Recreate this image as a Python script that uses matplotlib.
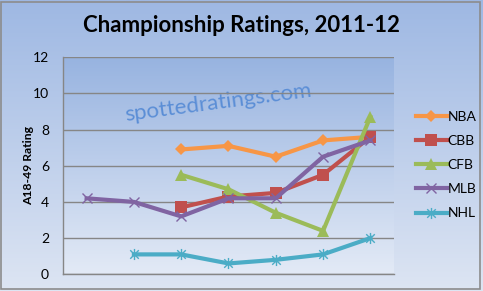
#!/usr/bin/env python3
"""Championship ratings 2011-12, Excel-style line chart."""

import numpy as np
import matplotlib
matplotlib.use("Agg")
import matplotlib.pyplot as plt
from matplotlib.path import Path
from matplotlib.colors import LinearSegmentedColormap

# =============================================================================
# Data
# =============================================================================

nan = np.nan
categories = ["1", "2", "3", "4", "5", "6", "7"]  # unlabeled on the chart

nba = [nan, nan, 6.9, 7.1, 6.5, 7.4, 7.6]
cbb = [nan, nan, 3.7, 4.3, 4.5, 5.5, 7.6]
cfb = [nan, nan, 5.5, 4.7, 3.4, 2.4, 8.7]
mlb = [4.2, 4.0, 3.2, 4.2, 4.2, 6.5, 7.4]
nhl = [nan, 1.1, 1.1, 0.6, 0.8, 1.1, 2.0]

series_names = ["NBA", "CBB", "CFB", "MLB", "NHL"]
y_ticks = [0, 2, 4, 6, 8, 10, 12]

# =============================================================================
# Style
# =============================================================================

FONT = "Lato"
COLORS = ["#F79646", "#C0504D", "#9BBB59", "#8064A2", "#4BACC6"]

# Excel "star" marker: an x with a vertical stroke
star = Path(
    [(-1, -1), (1, 1), (-1, 1), (1, -1), (0, -1.3), (0, 1.3)],
    [Path.MOVETO, Path.LINETO, Path.MOVETO, Path.LINETO, Path.MOVETO, Path.LINETO],
)
MARKERS = [
    dict(marker="D", ms=6.5, mew=0),
    dict(marker="s", ms=8.5, mew=0),
    dict(marker="^", ms=8.5, mew=0),
    dict(marker="x", ms=7, mew=1),
    dict(marker=star, ms=8, mew=1),
]

# =============================================================================
# Figure
# =============================================================================

fig = plt.figure(figsize=(4.83, 2.91), dpi=100)

# figure background gradient
bg = fig.add_axes([0, 0, 1, 1], zorder=-10)
bg_cmap = LinearSegmentedColormap.from_list("bg", ["#DDE5F3", "#9EB8E3"])
bg.imshow(np.linspace(0, 1, 256).reshape(-1, 1), cmap=bg_cmap, aspect="auto",
          origin="lower", extent=[0, 1, 0, 1])
bg.set_xlim(0, 1)
bg.set_ylim(0, 1)
bg.axis("off")
bg.add_patch(plt.Rectangle((0.003, 0.008), 0.991, 0.985, fill=False,
                           edgecolor="#8C8C8C", lw=1.2, transform=bg.transAxes))

ax = fig.add_axes([0.1304, 0.0574, 0.6853, 0.746])
ax.set_facecolor("none")

# plot area gradient
pa_cmap = LinearSegmentedColormap.from_list("pa", ["#E3EAF6", "#97B3E0"])
ax.imshow(np.linspace(0, 1, 256).reshape(-1, 1), cmap=pa_cmap, aspect="auto",
          origin="lower", extent=[-0.5, 6.5, 0, 12], zorder=0)

x = np.arange(len(categories))
for name, vals, col, mk in zip(series_names, [nba, cbb, cfb, mlb, nhl], COLORS, MARKERS):
    ax.plot(x, vals, color=col, lw=3, label=name, zorder=4,
            markerfacecolor=col, markeredgecolor=col, solid_joinstyle="round",
            **mk)

ax.set_xlim(-0.5, 6.5)
ax.set_ylim(0, 12)
ax.set_yticks(y_ticks)
ax.set_yticklabels([str(t) for t in y_ticks], fontsize=10, fontfamily=FONT)
ax.set_xticks([])
ax.tick_params(axis="y", length=0, pad=10)
ax.grid(axis="y", color="#868686", lw=1, zorder=1)
ax.set_axisbelow(False)
for s in ["top", "right"]:
    ax.spines[s].set_visible(False)
for s in ["left", "bottom"]:
    ax.spines[s].set_color("#868686")
    ax.spines[s].set_linewidth(1)

ax.set_ylabel("A18-49 Rating", fontsize=8.7, fontweight="bold", fontfamily=FONT,
              labelpad=-1)

fig.text(0.5, 0.914, "Championship Ratings, 2011-12", ha="center", va="center",
         fontsize=16, fontweight="bold", fontfamily=FONT)

# watermark
ax.text(0.47, 0.79, "spottedratings.com", transform=ax.transAxes, ha="center",
        va="center", rotation=7.5, fontsize=16, color="#5B8ED6", fontfamily=FONT,
        zorder=2)

leg = ax.legend(loc="upper left", bbox_to_anchor=(1.05, 0.78), frameon=False,
                prop={"family": FONT, "size": 10},
                handlelength=2.2, handletextpad=0.05, labelspacing=0.88,
                borderaxespad=0)

fig.savefig("out.png", dpi=100)
